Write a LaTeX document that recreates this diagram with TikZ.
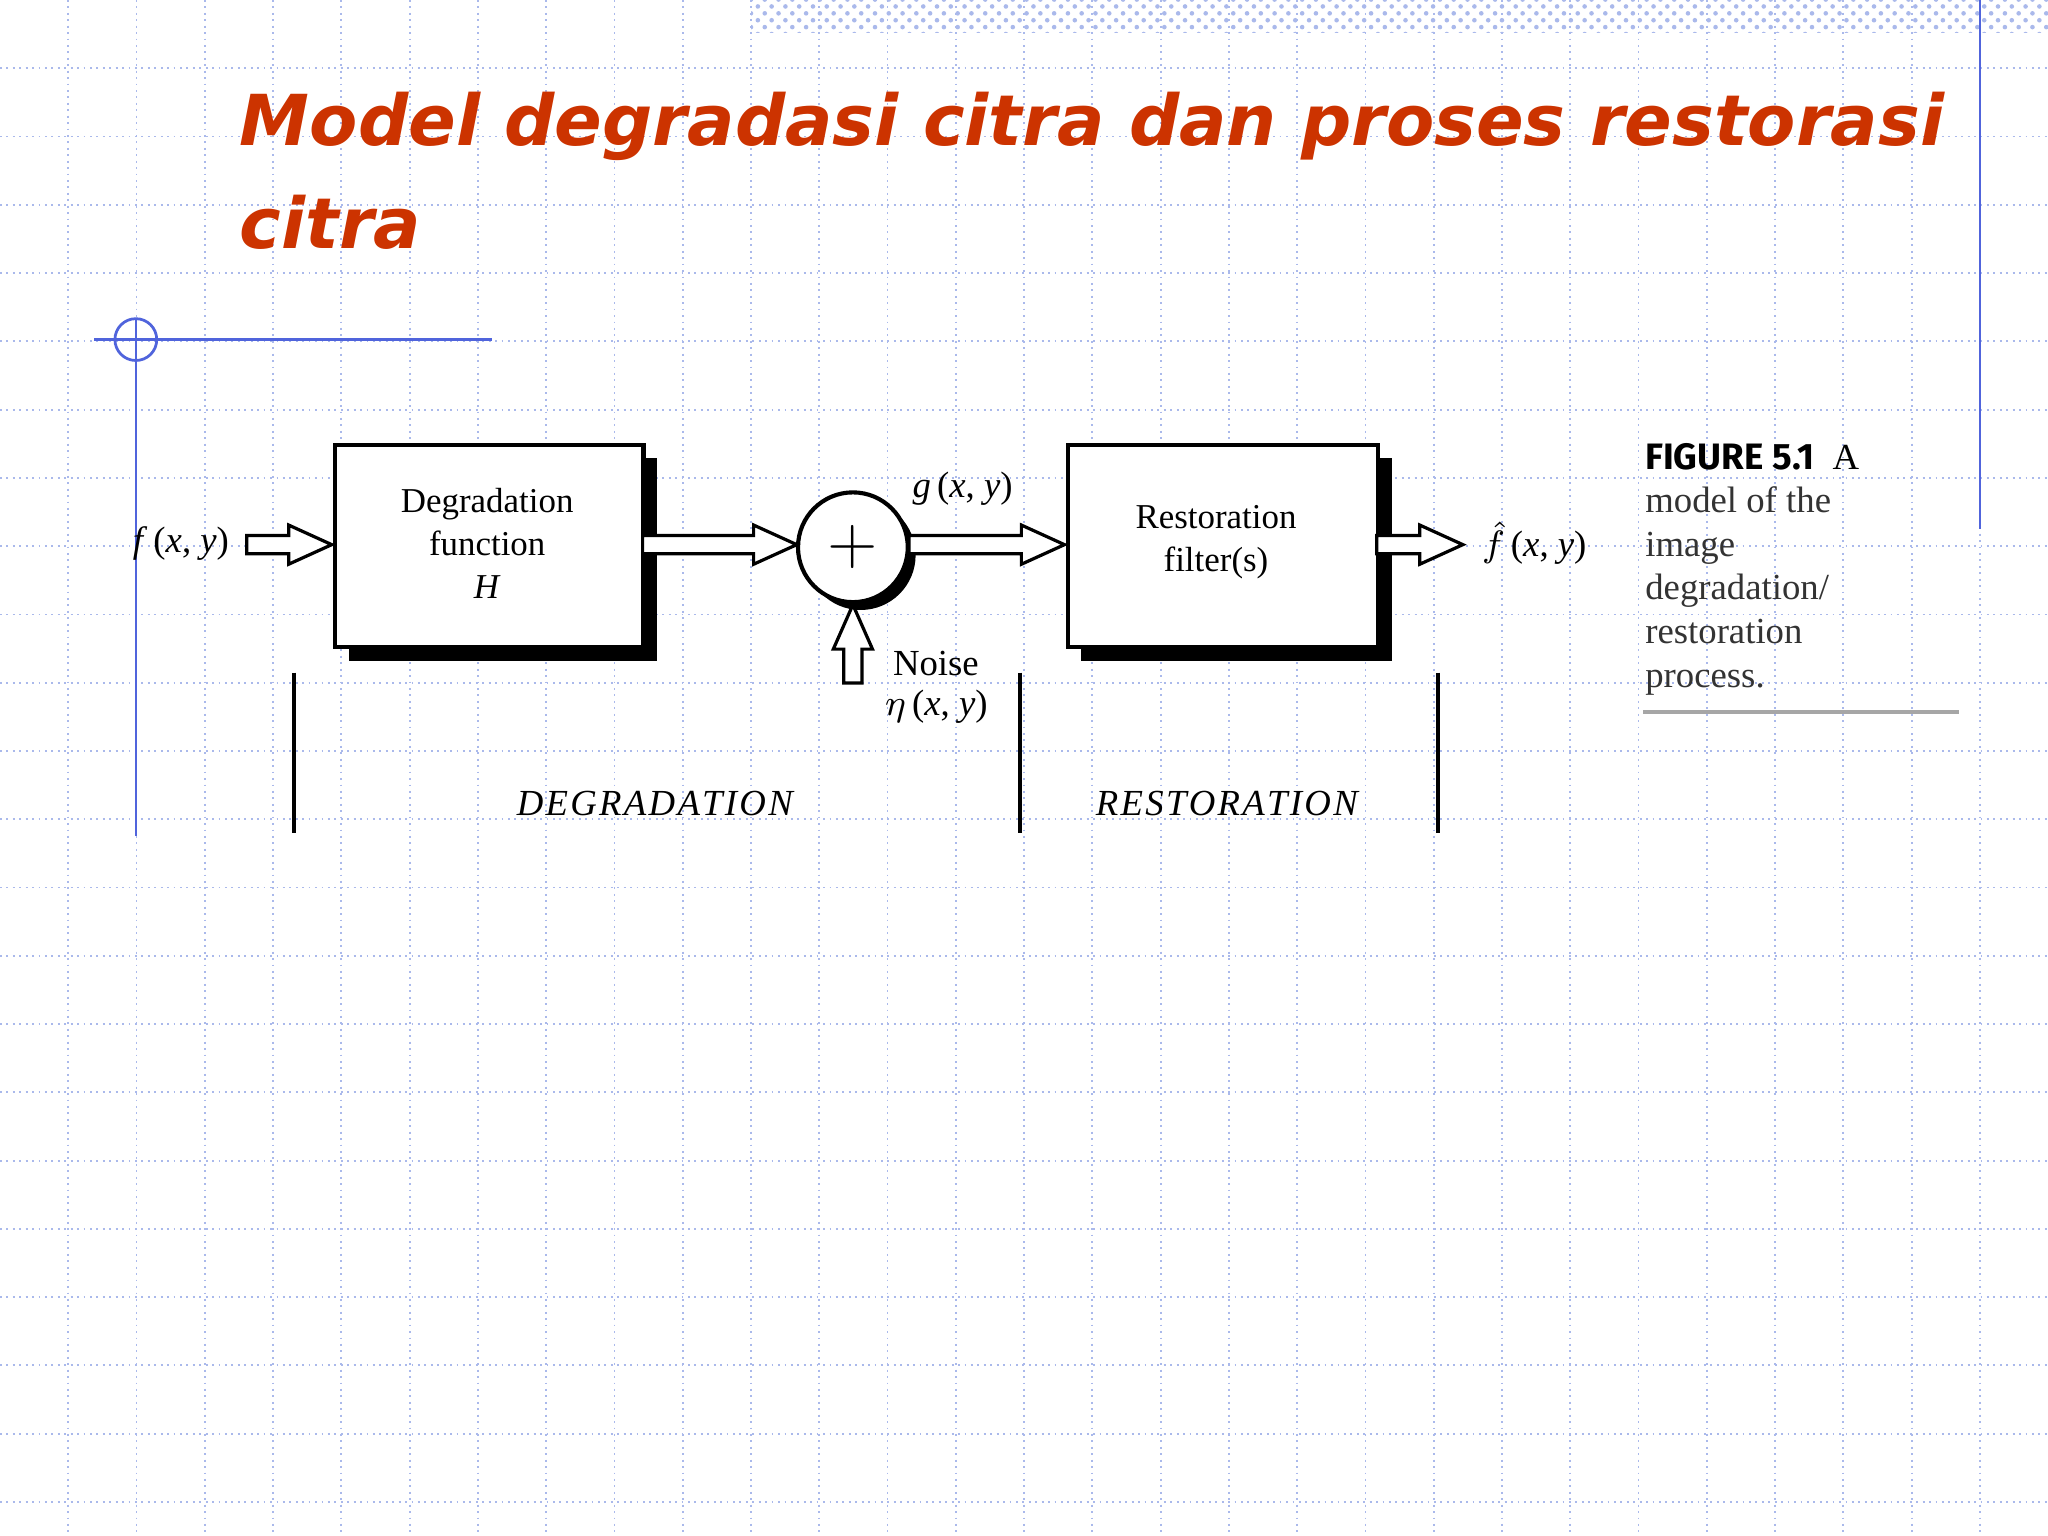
\documentclass[tikz,border=0pt]{standalone}
\usepackage{fontspec}
\setmainfont{Liberation Serif}
\newfontfamily\titlefont{DejaVu Sans}
\newfontfamily\capfont{Fira Sans}
\usetikzlibrary{patterns}
\definecolor{gridc}{RGB}{170,185,235}
\definecolor{decoc}{RGB}{80,100,220}
\definecolor{titlec}{RGB}{204,51,0}
\newcommand\fxy[1]{\textit{#1}\,(\textit{x}, \textit{y})}
\begin{document}
\begin{tikzpicture}[x=0.01cm,y=-0.01cm,
  box/.style={draw,line width=0.9pt,fill=white},
  shadow/.style={fill=black},
  harrow/.style={draw,line width=0.7pt,fill=white},
  txt/.style={font=\fontsize{8}{9.5}\selectfont,inner sep=0pt},
  lbl/.style={txt,align=center},
  sep/.style={line width=0.8pt}]
\useasboundingbox (0,0) rectangle (1568,1176);
\fill[white] (0,0) rectangle (1568,1176);
% grid
\foreach \i in {1,...,29} \draw[gridc,densely dotted,line width=0.4pt] ({\i*52.27},0) -- ({\i*52.27},1176);
\foreach \j in {1,...,22} \draw[gridc,densely dotted,line width=0.4pt] (0,{\j*52.27}) -- (1568,{\j*52.27});
% top band
\fill[pattern=crosshatch dots,pattern color=gridc] (575,0) rectangle (1568,25);
\draw[decoc,line width=0.5pt] (1516,0) -- (1516,405);
% left deco
\draw[decoc,line width=0.5pt] (104,245) -- (104,640);
\draw[decoc,line width=0.5pt] (72,260) -- (377,260);
\draw[decoc,line width=0.6pt] (104,260) circle (0.16cm);
% title
\node[anchor=west,inner sep=0pt,text=titlec,font=\titlefont\bfseries\itshape\fontsize{15.3}{18}\selectfont] at (183,97) {Model degradasi citra dan proses restorasi};
\node[anchor=west,inner sep=0pt,text=titlec,font=\titlefont\bfseries\itshape\fontsize{15.3}{18}\selectfont] at (183,170) {citra};
% shadows
\fill[shadow] (267,351) rectangle (503,506);
\fill[shadow] (828,351) rectangle (1066,506);
\fill[shadow] (659,425) circle (0.42cm);
% boxes
\node[box,minimum width=2.36cm,minimum height=1.55cm,anchor=north west] (b1) at (255,339) {};
\node[box,minimum width=2.37cm,minimum height=1.55cm,anchor=north west] (b2) at (816,339) {};
\node[box,circle,minimum size=0.84cm,inner sep=0pt] (c) at (653,419) {};
\node[font=\fontsize{14}{14}\selectfont] at (c) {$+$};
\node[lbl,font=\fontsize{7.6}{9.3}\selectfont] at (373,416) {Degradation\\function\\\textit{H}};
\node[lbl,font=\fontsize{7.6}{9.3}\selectfont] at (931,415) {Restoration\\filter(s)};
% arrows
\newcommand\harr[3]{\draw[harrow] (#1,#3-7) -- (#2-33,#3-7) -- (#2-33,#3-15) -- (#2,#3) -- (#2-33,#3+15) -- (#2-33,#3+7) -- (#1,#3+7) -- cycle;}
\harr{189}{254}{417}
\harr{492}{610}{417}
\harr{696}{815}{417}
\harr{1054}{1120}{417}
\draw[harrow] (646,523) -- (646,497) -- (638,497) -- (653,463) -- (668,497) -- (660,497) -- (660,523) -- cycle;
% labels
\node[txt,anchor=east] at (176,416) {\fxy{f}};
\node[txt] at (737,374) {\fxy{g}};
\node[txt,anchor=west] at (1134,416) {$\hat{f}$\,(\textit{x}, \textit{y})};
\node[txt,anchor=west] at (683,508) {Noise};
\node[txt,anchor=west] at (677,541) {$\eta$\,(\textit{x}, \textit{y})};
% separators
\draw[sep] (225,515) -- (225,638);
\draw[sep] (781,515) -- (781,638);
\draw[sep] (1101,515) -- (1101,638);
\node[txt] at (502,615) {\textit{D\kern.5pt E\kern.5pt G\kern.5pt R\kern.5pt A\kern.5pt D\kern.5pt A\kern.5pt T\kern.5pt I\kern.5pt O\kern.5pt N}};
\node[txt] at (940,615) {\textit{R\kern.5pt E\kern.5pt S\kern.5pt T\kern.5pt O\kern.5pt R\kern.5pt A\kern.5pt T\kern.5pt I\kern.5pt O\kern.5pt N}};
% caption
\node[txt,anchor=west] at (1259,350) {{\capfont\bfseries FIGURE 5.1}\ \ A};
\node[txt,anchor=north west,align=left,font=\fontsize{8}{9.5}\selectfont,text=black!80] at (1259,372) {model of the\\image\\degradation/\\restoration\\process.};
\draw[gray!70,line width=0.8pt] (1258,545) -- (1500,545);
\end{tikzpicture}
\end{document}
